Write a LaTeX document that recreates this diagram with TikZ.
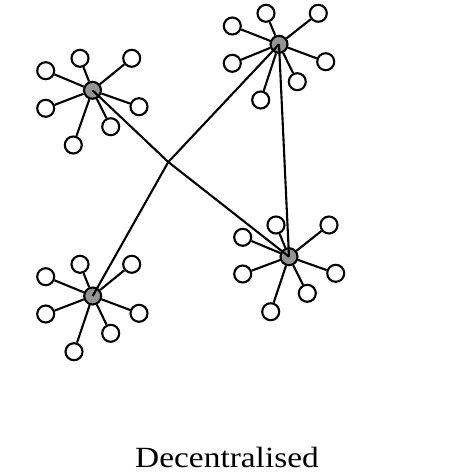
\documentclass[tikz,border=0pt]{standalone}
\usepackage{fontspec}
\setmainfont{Liberation Serif}
\begin{document}
\begin{tikzpicture}[x=1pt,y=-1pt,
  leaf/.style={circle,draw=black,fill=white,line width=2.1pt,minimum size=17pt,inner sep=0pt},
  hub/.style={circle,draw=black,fill=black!42,line width=2.1pt,minimum size=17pt,inner sep=0pt},
  spoke/.style={line width=2.1pt},
  link/.style={line width=2.1pt,line join=round}]
\useasboundingbox (0,0) rectangle (474,474);
% cluster A (top-left)
\node[hub] (A) at (92.5,90.3) {};
\foreach \i/\p in {1/{(80,58.3)},2/{(131.7,58.3)},3/{(45.7,70.7)},4/{(45.7,108.3)},5/{(139,106.7)},6/{(110.7,126.7)},7/{(73.3,145)}}
  {\node[leaf] (A\i) at \p {}; \draw[spoke] (A) -- (A\i);}
% cluster B (top-right)
\node[hub] (B) at (279,44.3) {};
\foreach \i/\p in {1/{(266,13.3)},2/{(318.3,13.3)},3/{(232.3,26)},4/{(232.3,63.3)},5/{(325.7,61.7)},6/{(297.3,81.7)},7/{(260.7,100)}}
  {\node[leaf] (B\i) at \p {}; \draw[spoke] (B) -- (B\i);}
% cluster C (bottom-left)
\node[hub] (C) at (92.7,296) {};
\foreach \i/\p in {1/{(80,264.3)},2/{(131.7,264.3)},3/{(45.7,276.7)},4/{(45.7,314)},5/{(139,313.3)},6/{(110.7,333.3)},7/{(74,351.7)}}
  {\node[leaf] (C\i) at \p {}; \draw[spoke] (C) -- (C\i);}
% cluster D (bottom-right)
\node[hub] (D) at (289,256.7) {};
\foreach \i/\p in {1/{(276,225)},2/{(329,225)},3/{(242.7,237.3)},4/{(242.7,274)},5/{(335.7,273.3)},6/{(307.3,293.3)},7/{(270.7,311.7)}}
  {\node[leaf] (D\i) at \p {}; \draw[spoke] (D) -- (D\i);}
% links between hubs through a common junction
\coordinate (J) at (168.3,162);
\draw[link] (A.center) -- (J) -- (D.center);
\draw[link] (B.center) -- (J) -- (C.center);
\draw[link] (B.center) -- (D.center);
% label
\node[anchor=base,inner sep=0pt,xscale=1.14] (label) at (227,467.7) {\fontsize{29.3}{32}\selectfont Decentralised};
\end{tikzpicture}
\end{document}
